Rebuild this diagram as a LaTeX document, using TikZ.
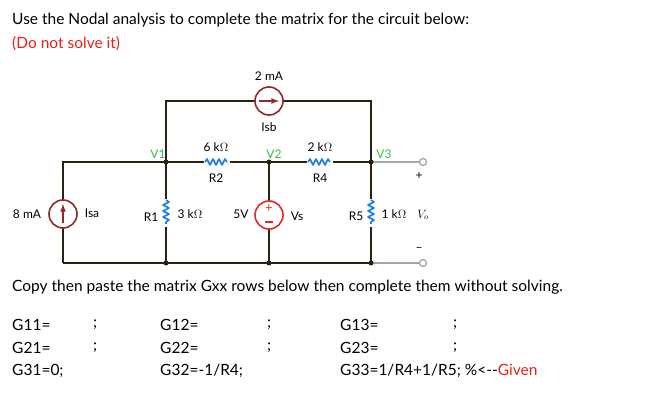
\documentclass[tikz,border=0pt]{standalone}
\usepackage{fontspec}
\setmainfont{Lato}
\begin{document}
\begin{tikzpicture}[x=1pt,y=-1pt,
  wire/.style={line width=2.3pt,color=wirec},
  res/.style={line width=1.6pt,color=resc,line join=round},
  src/.style={line width=1.6pt,color=srcc,fill=white},
  lbl/.style={font=\fontsize{12}{13}\selectfont,inner sep=1pt},
  vlbl/.style={font=\fontsize{12}{13}\selectfont,text=vgreen,inner sep=1pt},
  txt/.style={font=\fontsize{15.5}{17}\selectfont,anchor=west,inner sep=0pt},
  dot/.style={circle,fill=wirec,inner sep=0pt,minimum size=5pt},
  term/.style={circle,draw=gray!70,line width=1.3pt,fill=white,inner sep=0pt,minimum size=7pt}]
\definecolor{wirec}{HTML}{2B2115}
\definecolor{resc}{HTML}{1E7FE0}
\definecolor{srcc}{HTML}{8E2A2A}
\definecolor{vsc}{HTML}{E02A2A}
\definecolor{vgreen}{HTML}{3DB54A}
\definecolor{redtxt}{HTML}{E8201A}
\useasboundingbox (0,0) rectangle (668,419);
\coordinate (TL) at (166,101); \coordinate (TR) at (371,101);
\coordinate (LL) at (63,162); \coordinate (LB) at (63,263);
\coordinate (n1) at (166,162); \coordinate (n2) at (269,162); \coordinate (n3) at (371,162);
\coordinate (b1) at (166,263); \coordinate (b2) at (269,263); \coordinate (b3) at (371,263);
\node[term] (tp) at (423,162) {}; \node[term] (tm) at (423,263) {};
\draw[gray!70,line width=1.8pt] (n3) -- (tp); \draw[gray!70,line width=1.8pt] (b3) -- (tm);
\draw[wire,line join=miter] (LB) -- (LL) -- (n3);
\draw[wire] (LB) -- (b3);
\draw[wire] (n1) -- (TL) -- (TR) -- (n3) -- (b3);
\draw[wire] (n1) -- (b1); \draw[wire] (n2) -- (b2);
% resistors
\fill[white] (204,158) rectangle (230,166);
\draw[res] (205,162) -- ++(2,-3) -- ++(3,6) -- ++(3,-6) -- ++(3,6) -- ++(3,-6) -- ++(3,6) -- ++(3,-6) -- ++(2,3);
\fill[white] (307,158) rectangle (333,166);
\draw[res] (308,162) -- ++(2,-3) -- ++(3,6) -- ++(3,-6) -- ++(3,6) -- ++(3,-6) -- ++(3,6) -- ++(3,-6) -- ++(2,3);
\fill[white] (162,199) rectangle (170,227);
\draw[res] (166,200) -- ++(3,2) -- ++(-6,3) -- ++(6,3) -- ++(-6,3) -- ++(6,3) -- ++(-6,3) -- ++(6,3) -- ++(-3,2) -- ++(0,2);
\fill[white] (367,199) rectangle (375,227);
\draw[res] (371,200) -- ++(3,2) -- ++(-6,3) -- ++(6,3) -- ++(-6,3) -- ++(6,3) -- ++(-6,3) -- ++(6,3) -- ++(-3,2) -- ++(0,2);
% sources
\node[src,circle,draw,minimum size=28pt,inner sep=0pt] (isa) at (63,214) {};
\draw[srcc,line width=1.6pt,-latex] (63,223) -- (63,204);
\node[src,circle,draw,minimum size=28pt,inner sep=0pt] (isb) at (269,101) {};
\draw[srcc,line width=1.6pt,-latex] (259,101) -- (279,101);
\node[src,circle,draw=vsc,minimum size=28pt,inner sep=0pt] (vs) at (269,215) {};
\node[text=vsc,font=\fontsize{13}{13}\selectfont] at (269,209) {+};
\draw[vsc,line width=1.2pt] (265,222) -- (273,222);
\foreach \p in {n1,n2,n3,b1,b2,b3} \node[dot] at (\p) {};
% labels
\node[lbl] at (269,76) {2 mA};
\node[lbl] at (269,127) {Isb};
\node[lbl] at (216,147) {6 k$\Omega$};
\node[lbl] at (216,178) {R2};
\node[lbl] at (320,147) {2 k$\Omega$};
\node[lbl] at (320,178) {R4};
\node[vlbl] at (158,154) {V1};
\node[vlbl] at (274,154) {V2};
\node[vlbl] at (384,154) {V3};
\node[lbl] at (27,214) {8 mA};
\node[lbl] at (92,213) {Isa};
\node[lbl] at (151,217) {R1};
\node[lbl] at (190,214) {3 k$\Omega$};
\node[lbl] at (241,214) {5V};
\node[lbl] at (297,216) {Vs};
\node[lbl] at (356,216) {R5};
\node[lbl] at (394,214) {1 k$\Omega$};
\node[lbl] at (423,215) {$V_o$};
\node[lbl] at (419,176) {+};
\node[lbl] at (419,250) {--};
% texts
\node[txt] at (12,20) {Use the Nodal analysis to complete the matrix for the circuit below:};
\node[txt,text=redtxt] at (12,44) {(Do not solve it)};
\node[txt] at (12,287) {Copy then paste the matrix Gxx rows\ below then complete them without solving.};
\node[txt] at (12,325) {G11=}; \node[txt] at (93,325) {;};
\node[txt] at (160,325) {G12=}; \node[txt] at (267,325) {;};
\node[txt] at (340,325) {G13=}; \node[txt] at (453,325) {;};
\node[txt] at (12,348) {G21=}; \node[txt] at (93,348) {;};
\node[txt] at (160,348) {G22=}; \node[txt] at (267,348) {;};
\node[txt] at (340,348) {G23=}; \node[txt] at (453,348) {;};
\node[txt] at (12,371) {G31=0;};
\node[txt] at (160,371) {G32=-1/R4;};
\node[txt] at (340,371) {G33=1/R4+1/R5; \%<{}-{}-\textcolor{redtxt}{Given}};
\end{tikzpicture}
\end{document}
